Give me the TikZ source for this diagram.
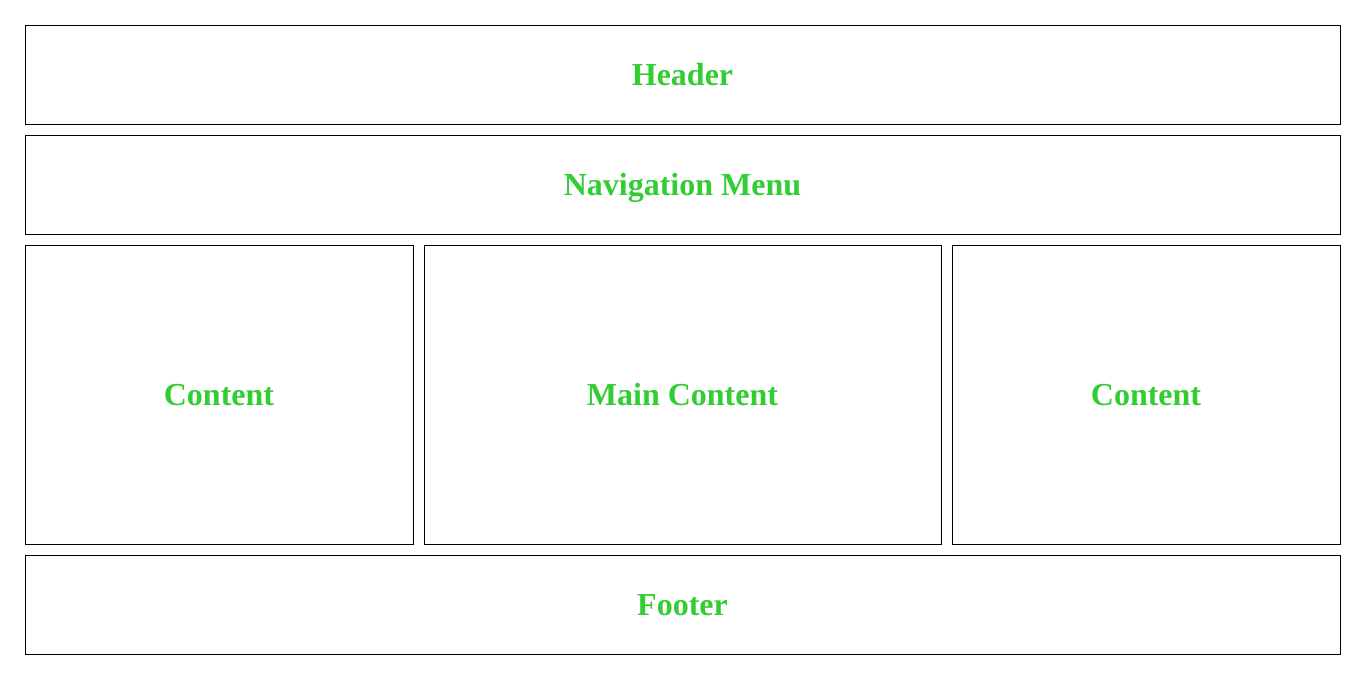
\documentclass[tikz,border=0pt]{standalone}
\usepackage{fontspec}
\setmainfont{Liberation Serif}
\definecolor{lgreen}{HTML}{32CD32}
\tikzset{
  pane/.style={draw=black, line width=1pt, fill=white, inner sep=0pt, outer sep=0pt,
    text height=21pt, text depth=0pt,
    font=\fontsize{32}{38}\selectfont\bfseries, text=lgreen},
}
\begin{document}
\begin{tikzpicture}[x=1pt,y=-1pt]
\useasboundingbox (0,0) rectangle (1366,680);
\node[pane, minimum width=1315pt, minimum height=99pt] (header) at (682.5,74.5) {Header};
\node[pane, minimum width=1315pt, minimum height=99pt] (nav) at (682.5,184.5) {Navigation Menu};
\node[pane, minimum width=388pt, minimum height=299pt] (left) at (219,394.5) {Content};
\node[pane, minimum width=517pt, minimum height=299pt] (main) at (682.5,394.5) {Main Content};
\node[pane, minimum width=388pt, minimum height=299pt] (right) at (1146,394.5) {Content};
\node[pane, minimum width=1315pt, minimum height=99pt] (footer) at (682.5,604.5) {Footer};
\end{tikzpicture}
\end{document}
